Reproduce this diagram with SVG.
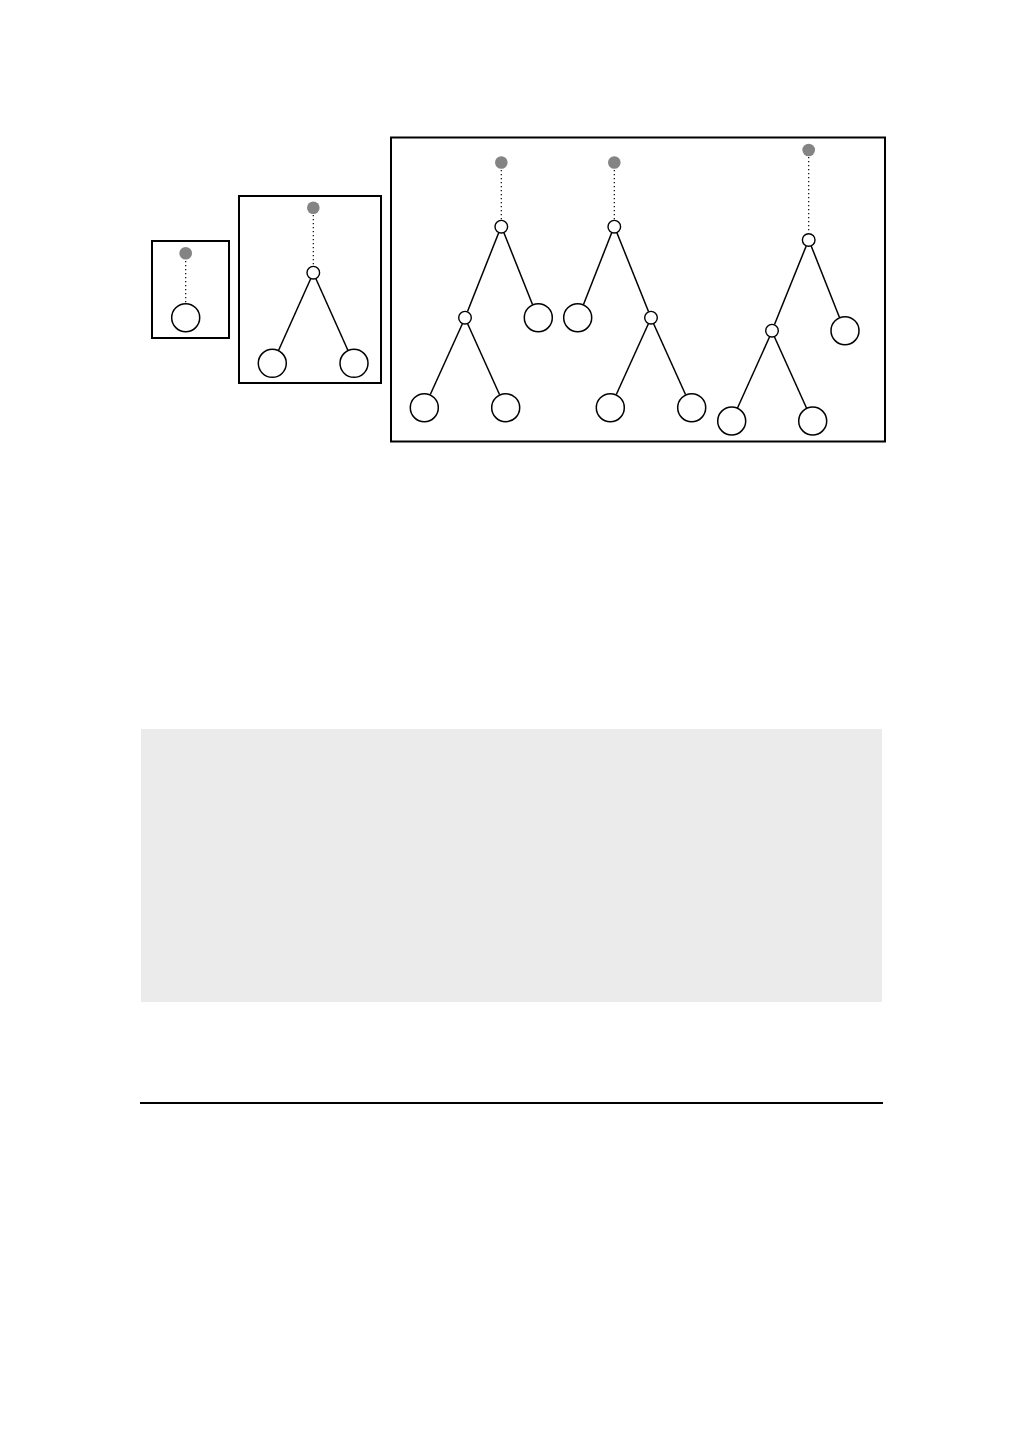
<svg xmlns="http://www.w3.org/2000/svg" width="1009" height="1441" viewBox="0 0 1009 1441">
<style>
.frame{fill:none;stroke:#000;stroke-width:2}
.root{fill:#848484;stroke:none}
.inner{fill:#fff;stroke:#000;stroke-width:1.4}
.leaf{fill:#fff;stroke:#000;stroke-width:1.5}
.edge{stroke:#000;stroke-width:1.5;fill:none}
.dot{stroke:#000;stroke-width:1.2;stroke-dasharray:1.2 2.8;fill:none}
</style>
<rect width="1009" height="1441" fill="#fff"/>
<g id="frames">
<rect class="frame" x="152" y="241" width="77" height="97"/>
<rect class="frame" x="239" y="196" width="142" height="187"/>
<rect class="frame" x="391" y="137.5" width="494" height="304"/>
</g>
<g id="connectors">
<line class="dot" x1="185.7" y1="261" x2="185.7" y2="303"/>
<line class="dot" x1="313.3" y1="215" x2="313.3" y2="266"/>
<line class="edge" x1="310.8" y1="278.5" x2="278.5" y2="350.5"/>
<line class="edge" x1="315.8" y1="278.5" x2="348" y2="350.5"/>
<line class="dot" x1="501.3" y1="170" x2="501.3" y2="220"/>
<line class="edge" x1="498.8" y1="232.5" x2="467.5" y2="311.5"/>
<line class="edge" x1="503.8" y1="232.5" x2="532.5" y2="304.5"/>
<line class="edge" x1="462.5" y1="323.5" x2="430.3" y2="394.5"/>
<line class="edge" x1="467.5" y1="323.5" x2="499.5" y2="394.5"/>
<line class="dot" x1="614.3" y1="170" x2="614.3" y2="220"/>
<line class="edge" x1="611.8" y1="232.5" x2="583.5" y2="304.5"/>
<line class="edge" x1="616.8" y1="232.5" x2="648.5" y2="311.5"/>
<line class="edge" x1="648.5" y1="323.5" x2="616.3" y2="394.5"/>
<line class="edge" x1="653.5" y1="323.5" x2="685.5" y2="394.5"/>
<line class="dot" x1="808.7" y1="157" x2="808.7" y2="233"/>
<line class="edge" x1="806.2" y1="246" x2="774.5" y2="324.5"/>
<line class="edge" x1="811.2" y1="246" x2="839.5" y2="317.5"/>
<line class="edge" x1="769.5" y1="337" x2="737.5" y2="408"/>
<line class="edge" x1="774.5" y1="337" x2="806.5" y2="408"/>
</g>
<g id="tree1">
<circle class="root" cx="185.7" cy="253.3" r="6.3"/>
<circle class="leaf" cx="185.7" cy="317.7" r="14"/>
</g>
<g id="tree2">
<circle class="root" cx="313.3" cy="207.7" r="6.3"/>
<circle class="inner" cx="313.3" cy="272.7" r="6.3"/>
<circle class="leaf" cx="272.3" cy="363.3" r="14"/>
<circle class="leaf" cx="354" cy="363.3" r="14"/>
</g>
<g id="tree3a">
<circle class="root" cx="501.3" cy="162.5" r="6.3"/>
<circle class="inner" cx="501.3" cy="226.7" r="6.3"/>
<circle class="inner" cx="465" cy="317.7" r="6.3"/>
<circle class="leaf" cx="538.3" cy="317.7" r="14"/>
<circle class="leaf" cx="424.3" cy="407.7" r="14"/>
<circle class="leaf" cx="505.7" cy="407.7" r="14"/>
</g>
<g id="tree3b">
<circle class="root" cx="614.3" cy="162.5" r="6.3"/>
<circle class="inner" cx="614.3" cy="226.7" r="6.3"/>
<circle class="leaf" cx="577.7" cy="317.7" r="14"/>
<circle class="inner" cx="651" cy="317.7" r="6.3"/>
<circle class="leaf" cx="610.3" cy="407.7" r="14"/>
<circle class="leaf" cx="691.7" cy="407.7" r="14"/>
</g>
<g id="tree3c">
<circle class="root" cx="808.7" cy="150" r="6.3"/>
<circle class="inner" cx="808.7" cy="240" r="6.3"/>
<circle class="inner" cx="772" cy="330.7" r="6.3"/>
<circle class="leaf" cx="845" cy="330.7" r="14"/>
<circle class="leaf" cx="731.7" cy="421" r="14"/>
<circle class="leaf" cx="812.7" cy="421" r="14"/>
</g>
<g id="panel">
<rect x="141" y="729" width="741" height="273" fill="#ebebeb"/>
<line x1="140" y1="1103" x2="883" y2="1103" stroke="#000" stroke-width="2"/>
</g>
</svg>
